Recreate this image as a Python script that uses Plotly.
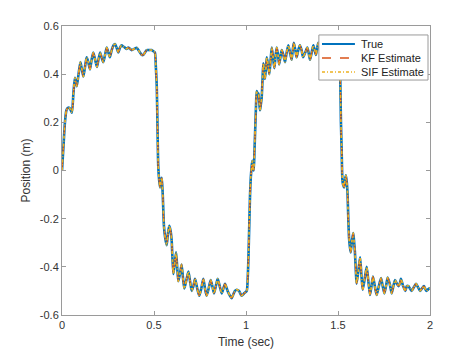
import plotly.graph_objects as go

time_sec = [
    0.000, 0.008, 0.016, 0.024, 0.032, 0.040, 0.048, 0.054, 0.062, 0.070,
    0.080, 0.090, 0.100, 0.108, 0.116, 0.125, 0.134, 0.143, 0.152, 0.161,
    0.170, 0.180, 0.190, 0.198, 0.207, 0.215, 0.224, 0.234, 0.243, 0.252,
    0.260, 0.270, 0.280, 0.288, 0.297, 0.306, 0.315, 0.324, 0.333, 0.342,
    0.351, 0.360, 0.370, 0.379, 0.392, 0.406, 0.415, 0.424, 0.433, 0.442,
    0.451, 0.460, 0.473, 0.487, 0.497, 0.505, 0.510, 0.515, 0.519, 0.523,
    0.528, 0.533, 0.538, 0.542, 0.547, 0.554, 0.561, 0.569, 0.576, 0.583,
    0.590, 0.596, 0.605, 0.612, 0.620, 0.626, 0.632, 0.641, 0.650, 0.658,
    0.665, 0.676, 0.687, 0.696, 0.705, 0.714, 0.723, 0.735, 0.746, 0.757,
    0.768, 0.777, 0.786, 0.797, 0.808, 0.817, 0.826, 0.836, 0.846, 0.857,
    0.868, 0.877, 0.886, 0.900, 0.913, 0.922, 0.931, 0.940, 0.950, 0.962,
    0.976, 0.990, 1.004, 1.009, 1.013, 1.018, 1.022, 1.026, 1.030, 1.034,
    1.038, 1.042, 1.046, 1.050, 1.054, 1.058, 1.063, 1.067, 1.072, 1.076,
    1.080, 1.085, 1.090, 1.094, 1.099, 1.103, 1.108, 1.113, 1.120, 1.127,
    1.134, 1.140, 1.147, 1.154, 1.160, 1.167, 1.174, 1.180, 1.187, 1.194,
    1.203, 1.212, 1.221, 1.230, 1.239, 1.248, 1.254, 1.260, 1.268, 1.275,
    1.284, 1.293, 1.302, 1.310, 1.322, 1.333, 1.340, 1.348, 1.357, 1.366,
    1.373, 1.380, 1.387, 1.393, 1.402, 1.410, 1.420, 1.430, 1.440, 1.450,
    1.460, 1.470, 1.480, 1.490, 1.500, 1.508, 1.512, 1.516, 1.520, 1.524,
    1.528, 1.533, 1.538, 1.543, 1.548, 1.552, 1.556, 1.560, 1.565, 1.569,
    1.576, 1.583, 1.588, 1.592, 1.597, 1.601, 1.610, 1.620, 1.627, 1.634,
    1.645, 1.656, 1.665, 1.674, 1.682, 1.690, 1.700, 1.710, 1.722, 1.734,
    1.743, 1.752, 1.761, 1.770, 1.781, 1.792, 1.801, 1.810, 1.820, 1.830,
    1.836, 1.842, 1.854, 1.866, 1.874, 1.883, 1.891, 1.900, 1.912, 1.924,
    1.935, 1.946, 1.956, 1.967, 1.980, 1.995, 2.000,
]

true_position = [
    0.00, 0.10, 0.20, 0.25, 0.26, 0.26, 0.25, 0.24, 0.32, 0.385,
    0.35, 0.40, 0.45, 0.42, 0.39, 0.43, 0.47, 0.45, 0.42, 0.46,
    0.49, 0.46, 0.43, 0.46, 0.49, 0.47, 0.45, 0.48, 0.51, 0.49,
    0.47, 0.50, 0.52, 0.525, 0.51, 0.49, 0.51, 0.52, 0.515, 0.51,
    0.505, 0.51, 0.505, 0.50, 0.505, 0.51, 0.50, 0.49, 0.48, 0.48,
    0.49, 0.50, 0.50, 0.50, 0.495, 0.49, 0.43, 0.35, 0.18, 0.02,
    -0.04, -0.07, -0.04, -0.03, -0.09, -0.23, -0.28, -0.31, -0.26, -0.23,
    -0.25, -0.29, -0.43, -0.39, -0.34, -0.40, -0.46, -0.43, -0.39, -0.45,
    -0.49, -0.455, -0.42, -0.46, -0.50, -0.48, -0.45, -0.49, -0.52, -0.49,
    -0.45, -0.49, -0.52, -0.49, -0.455, -0.48, -0.51, -0.48, -0.45, -0.48,
    -0.51, -0.49, -0.47, -0.50, -0.52, -0.53, -0.515, -0.50, -0.495, -0.50,
    -0.52, -0.51, -0.50, -0.45, -0.37, -0.22, -0.10, -0.03, 0.01, 0.04,
    0.01, 0.00, 0.08, 0.17, 0.26, 0.33, 0.32, 0.32, 0.28, 0.25,
    0.27, 0.30, 0.38, 0.445, 0.42, 0.38, 0.42, 0.47, 0.44, 0.40,
    0.46, 0.51, 0.47, 0.425, 0.47, 0.51, 0.48, 0.44, 0.47, 0.50,
    0.48, 0.45, 0.49, 0.52, 0.49, 0.46, 0.50, 0.53, 0.50, 0.47,
    0.50, 0.52, 0.50, 0.47, 0.49, 0.51, 0.49, 0.46, 0.49, 0.52,
    0.50, 0.48, 0.51, 0.53, 0.50, 0.48, 0.51, 0.53, 0.50, 0.48,
    0.51, 0.52, 0.50, 0.49, 0.51, 0.50, 0.40, 0.20, 0.08, -0.04,
    -0.06, -0.07, -0.04, -0.02, -0.05, -0.10, -0.20, -0.28, -0.32, -0.34,
    -0.29, -0.26, -0.30, -0.34, -0.42, -0.47, -0.42, -0.36, -0.43, -0.495,
    -0.45, -0.40, -0.46, -0.517, -0.48, -0.44, -0.48, -0.517, -0.48, -0.447,
    -0.48, -0.51, -0.48, -0.445, -0.47, -0.51, -0.48, -0.455, -0.47, -0.48,
    -0.47, -0.45, -0.48, -0.50, -0.48, -0.48, -0.49, -0.50, -0.485, -0.47,
    -0.485, -0.50, -0.49, -0.48, -0.50, -0.49, -0.49,
]

# Estimates are visually indistinguishable from the true trajectory
kf_estimate = list(true_position)
sif_estimate = list(true_position)

series_names = ["True", "KF Estimate", "SIF Estimate"]
series_colors = ["#0072BD", "#D95319", "#EDB120"]
series_dashes = ["solid", "dash", "3px,2px,1px,2px"]

x_ticks = [0, 0.5, 1, 1.5, 2]
x_tick_labels = ["0", "0.5", "1", "1.5", "2"]
y_ticks = [-0.6, -0.4, -0.2, 0, 0.2, 0.4, 0.6]
y_tick_labels = ["-0.6", "-0.4", "-0.2", "0", "0.2", "0.4", "0.6"]

font_family = "Liberation Sans, Arial, sans-serif"
axis_color = "#9a9a9a"
text_color = "#333333"

fig = go.Figure()
widths = [2.6, 1.2, 1.7]
for name, ys, color, dash, w in zip(series_names,
                                    [true_position, kf_estimate, sif_estimate],
                                    series_colors, series_dashes, widths):
    fig.add_trace(go.Scatter(
        x=time_sec, y=ys, mode="lines", name=name, showlegend=False,
        line=dict(color=color, width=w, dash=dash, shape="spline", smoothing=0.6),
    ))

# Manual legend box (MATLAB-style compact legend) in paper coordinates
shapes = [dict(type="rect", xref="paper", yref="paper",
               x0=0.698, x1=0.9946, y0=0.813, y1=0.969,
               line=dict(color="#9a9a9a", width=1), fillcolor="white", layer="above")]
annotations = []
row_y = [0.9377, 0.8893, 0.8408]
for name, color, dash, w, yy in zip(series_names, series_colors, series_dashes, [2.2, 1.5, 1.5], row_y):
    shapes.append(dict(type="line", xref="paper", yref="paper",
                       x0=0.7065, x1=0.796, y0=yy, y1=yy,
                       line=dict(color=color, width=w, dash=dash), layer="above"))
    annotations.append(dict(xref="paper", yref="paper", x=0.806, y=yy,
                            text=name, showarrow=False, xanchor="left", yanchor="middle",
                            font=dict(family=font_family, size=11, color="#222222")))

fig.update_layout(
    width=474, height=355,
    margin=dict(l=54, r=52, t=18, b=48),
    paper_bgcolor="white", plot_bgcolor="white",
    font=dict(family=font_family, size=11, color=text_color),
    showlegend=False,
    shapes=shapes,
    annotations=annotations,
    xaxis=dict(
        range=[0, 2], tickmode="array", tickvals=x_ticks, ticktext=x_tick_labels,
        ticks="inside", ticklen=4, tickcolor=axis_color, showgrid=False, zeroline=False,
        showline=True, linecolor=axis_color, linewidth=1, mirror="ticks",
        title=dict(text="Time (sec)", font=dict(size=12, color=text_color), standoff=7),
        tickfont=dict(size=11, color=text_color),
    ),
    yaxis=dict(
        range=[-0.6, 0.6], tickmode="array", tickvals=y_ticks, ticktext=y_tick_labels,
        ticks="inside", ticklen=4, tickcolor=axis_color, showgrid=False, zeroline=False,
        showline=True, linecolor=axis_color, linewidth=1, mirror="ticks",
        title=dict(text="Position (m)", font=dict(size=12, color=text_color), standoff=6),
        tickfont=dict(size=11, color=text_color),
    ),
)

fig.write_html("out.html")
